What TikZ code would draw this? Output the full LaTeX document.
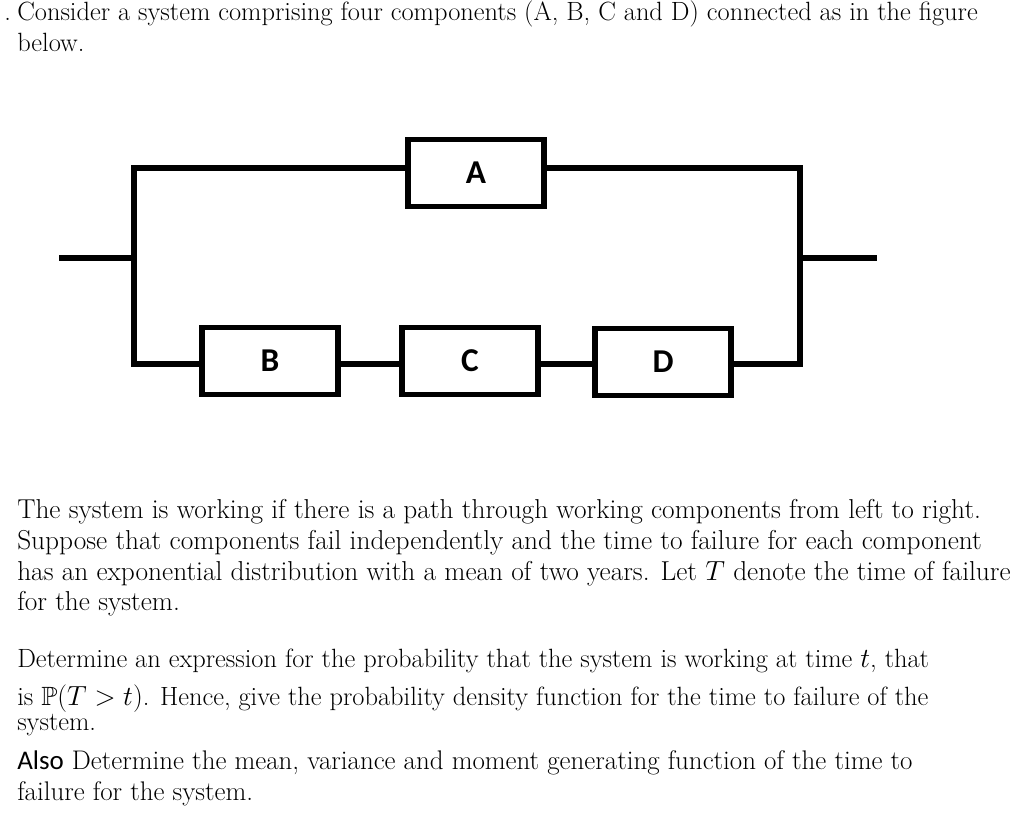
\documentclass[tikz,border=0pt]{standalone}
\usepackage{fontspec}
\usepackage{amssymb}
\newfontfamily\carl{Carlito}
\begin{document}
\begin{tikzpicture}[x=0.75pt,y=-0.75pt,
  wire/.style={line width=3.8pt},
  comp/.style={draw,line width=3.8pt,minimum width=102pt,minimum height=50pt,font=\carl\bfseries\fontsize{25}{28}\selectfont},
  txt/.style={anchor=base west,inner sep=0pt,font=\fontsize{20.5}{24}\selectfont},
  txtb/.style={anchor=base west,inner sep=0pt,font=\fontsize{19.8}{24}\selectfont},
  txtc/.style={anchor=base west,inner sep=0pt,font=\fontsize{20.2}{24}\selectfont}]
\useasboundingbox (0,0) rectangle (1024,813);
\node[comp] (A) at (476,173) {A};
\node[comp] (B) at (270,361) {B};
\node[comp] (C) at (470,361) {C};
\node[comp] (D) at (663,362) {D};
\coordinate (in) at (59,258);
\coordinate (out) at (877,258);
\coordinate (lj) at (134,258);
\coordinate (rj) at (800,258);
\draw[wire] (in) -- (lj);
\draw[wire] (rj) -- (out);
\draw[wire] ([yshift=3.75pt]A.west) -| (lj) |- ([yshift=-2.25pt]B.west);
\draw[wire] ([yshift=3.75pt]A.east) -| (rj) |- ([yshift=-1.5pt]D.east);
\draw[wire] ([yshift=-2.25pt]B.east) -- ([yshift=-2.25pt]C.west);
\draw[wire] ([yshift=-2.25pt]C.east) -- ([yshift=-1.5pt]D.west);
\node[txtb] (l0) at (4,21) {.};
\node[txtb] (l1) at (17,21) {Consider a system comprising four components (A, B, C and D) connected as in the figure};
\node[txtb] (l2) at (17,52) {below.};
\node[txt] (p1) at (17,518) {The system is working if there is a path through working components from left to right.};
\node[txt] (p2) at (17,549) {Suppose that components fail independently and the time to failure for each component};
\node[txt] (p3) at (17,580) {has an exponential distribution with a mean of two years. Let $T$ denote the time of failure};
\node[txt] (p4) at (17,610) {for the system.};
\node[txtb] (q1) at (17,667) {Determine an expression for the probability that the system is working at time $t$, that};
\node[txtb] (q2) at (17,705) {is $\mathbb{P}(T>t)$. Hence, give the probability density function for the time to failure of the};
\node[txtb] (q3) at (17,730) {system.};
\node[txtc] (r1) at (17,769) {{\carl Also} Determine the mean, variance and moment generating function of the time to};
\node[txtc] (r2) at (17,800) {failure for the system.};
\end{tikzpicture}
\end{document}
